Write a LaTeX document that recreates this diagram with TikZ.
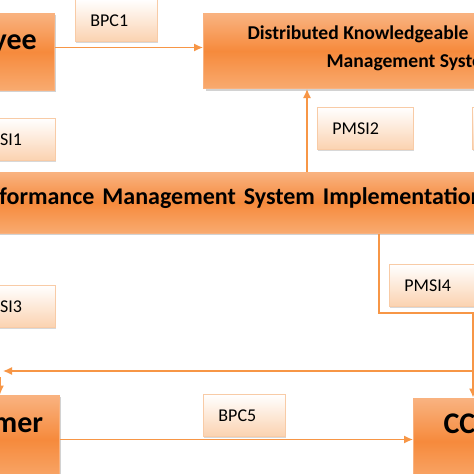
\documentclass[tikz,border=0pt]{standalone}
\usepackage{fontspec}
\setmainfont{Carlito}
\usepackage{xcolor}
\usetikzlibrary{shadows,arrows.meta}
\definecolor{orangeMain}{HTML}{F79646}
\definecolor{orangeDeep}{HTML}{F68A3C}
\definecolor{orangeLight}{HTML}{F9B381}
\definecolor{orangeEdge}{HTML}{F9B27F}
\definecolor{tagEdge}{HTML}{F8CBA6}
\definecolor{tagFill}{HTML}{FBD2B0}

\begin{document}
\begin{tikzpicture}
[x=1pt,y=-1pt,
lineDecorate/.style={-{Latex[length=9pt,width=8pt]},line width=1.3pt,draw=orangeMain},
boxDecorate/.style={shape=rectangle,draw=orangeEdge,line width=1pt,top color=orangeLight,bottom color=orangeLight!70!orangeMain,middle color=orangeDeep,drop shadow={opacity=0.35,shadow xshift=2pt,shadow yshift=-2pt},inner xsep=0pt,inner ysep=0pt},
bigText/.style={font=\bfseries\fontsize{30}{32}\selectfont},
tagDecorate/.style={shape=rectangle,draw=tagEdge,line width=0.8pt,top color=white,bottom color=tagFill,drop shadow={opacity=0.3,shadow xshift=1pt,shadow yshift=-1.5pt},minimum height=42pt,inner xsep=15pt,align=left,font=\fontsize{18}{20}\selectfont}]

 \useasboundingbox (0,0) rectangle (474,474);
 \fill[white] (0,0) rectangle (474,474);
 \clip (0,0) rectangle (474,474);

 % main blocks
 \node (emp) at (-24.5,49) [boxDecorate, bigText, anchor=base, minimum width=157pt, text height=36pt, text depth=41pt] {Employee};
 \node (dkms) at (203,13) [boxDecorate, anchor=north west, minimum height=75pt, inner xsep=44pt, align=left, font=\bfseries\fontsize{19.6}{28}\selectfont] {Distributed Knowledgeable\\\hspace*{79pt}Management System\rule[-8pt]{0pt}{1pt}};
 \node (pms) at (-34,204) [boxDecorate, anchor=base west, text width=530pt, align=left, text height=32pt, text depth=29pt, font=\bfseries\fontsize{24}{26}\selectfont] {Performance Management System Implementation};
 \node (cust) at (-17,432) [boxDecorate, bigText, anchor=base, minimum width=152pt, text height=37pt, text depth=52pt] {Customer};
 \node (cc) at (413,433) [boxDecorate, bigText, anchor=base west, inner xsep=30pt, text width=90pt, align=left, text height=35pt, text depth=52pt] {CC};

 % labels
 \node (bpc1) at (75,-1) [tagDecorate, anchor=north west, text width=52pt] {BPC1};
 \node (pmsi1) at (-40,118) [tagDecorate, anchor=north west, text width=65pt] {PMSI1};
 \node (pmsi2) at (317,107) [tagDecorate, anchor=north west, text width=66pt] {PMSI2};
 \node (pmsiX) at (472,107) [tagDecorate, anchor=north west, text width=66pt] {};
 \node (pmsi3) at (-40,285) [tagDecorate, anchor=north west, text width=65pt] {PMSI3};
 \node (pmsi4) at (389,264) [tagDecorate, anchor=north west, text width=66pt] {PMSI4};
 \node (bpc5) at (203,394) [tagDecorate, anchor=north west, text width=52pt] {BPC5};

 \coordinate (upX) at (307,0);
 \coordinate (downX) at (379,0);
 \coordinate (rightX) at (473,0);
 \coordinate (turnY) at (0,313);
 \coordinate (backY) at (0,371);
 \coordinate (leftEnd) at (3,371);
 \coordinate (custIn) at (0,377);

 \draw[lineDecorate] ([yshift=4pt]emp.east) -- ([yshift=4pt]emp.east -| dkms.west);
 \draw[lineDecorate] (upX |- pms.north) -- (upX |- dkms.south);
 \draw[lineDecorate] (downX |- pms.south) |- (rightX |- turnY) -- (rightX |- cc.north);
 \draw[lineDecorate] (rightX |- backY) -- (leftEnd);
 \draw[lineDecorate] (custIn) -- (custIn |- cust.north);
 \draw[lineDecorate] (cust.east) -- (cust.east -| cc.west);
\end{tikzpicture}
\end{document}
